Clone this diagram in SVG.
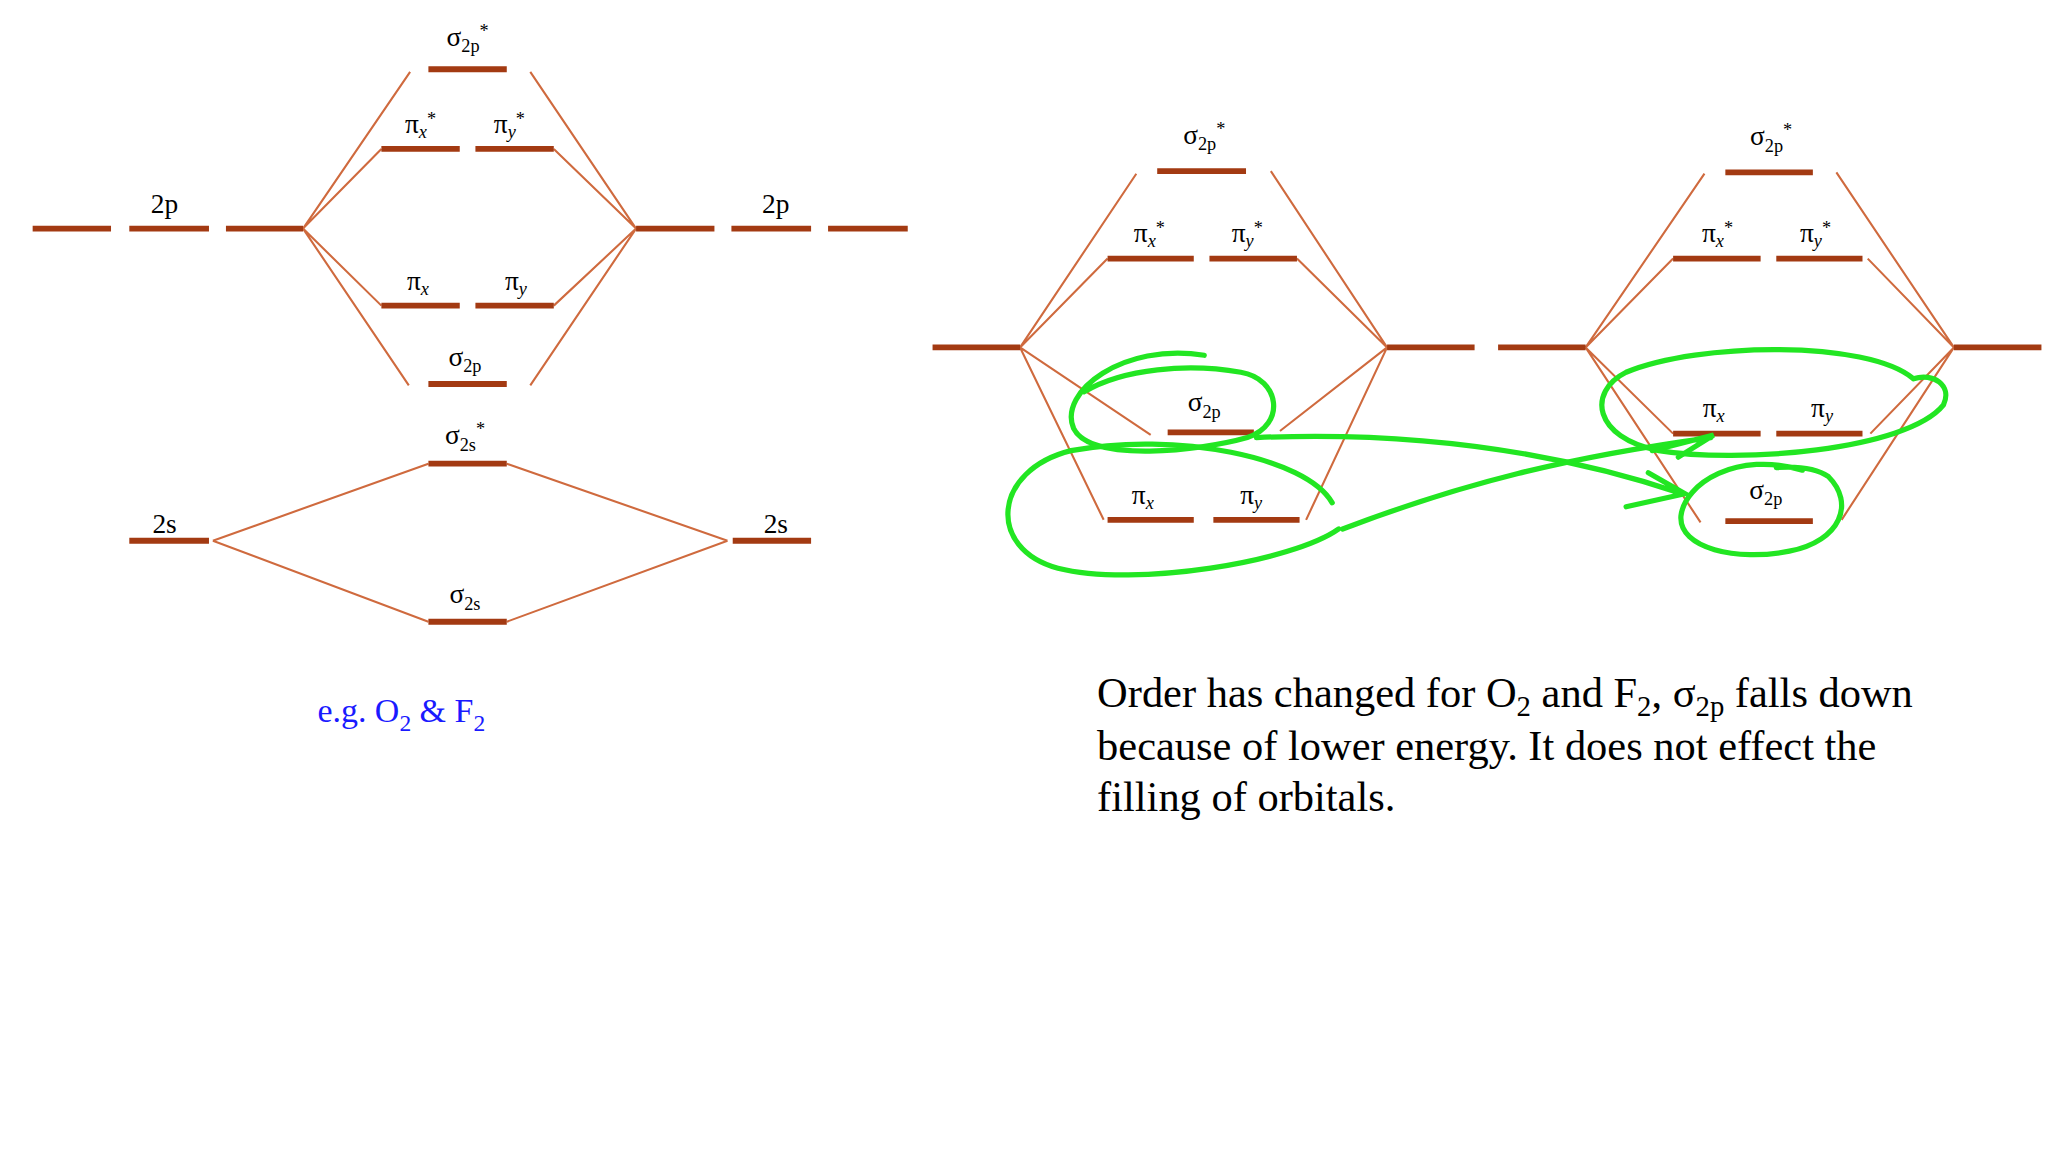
<svg xmlns="http://www.w3.org/2000/svg" width="2048" height="1152" viewBox="0 0 2048 1152">
<style>
.lv{stroke:#a33a12;stroke-width:4.5;fill:none}
.cn{stroke:#cf6a3e;stroke-width:1.6;fill:none}
.lb{font-family:"Liberation Serif",serif;font-size:21px;fill:#000;text-anchor:middle}
.sb{font-size:14px}
.gr{stroke:#22e622;stroke-width:4;fill:none;stroke-linecap:round}
.tx{font-family:"Liberation Serif",serif;font-size:32.5px;fill:#000}
</style>
<rect width="2048" height="1152" fill="#fff"/>
<g transform="scale(1.3061)">
<g id="connectors">
<path class="cn" d="M232,175L314,55M232,175L292,114M232,175L292,234M232,175L313,295M487,175L406,55M487,175L424,114M487,175L424,234M487,175L406,295M163,414L328,355M163,414L328,476M557,414L388,355M557,414L388,476"/>
<path class="cn" d="M781,266L870,133M781,266L848,198M781,266L881,333M781,266L845,398M1062,266L973,131M1062,266L993,198M1062,266L980,330M1062,266L1000,398"/>
<path class="cn" d="M1214,266L1305,133M1214,266L1281,198M1214,266L1281,332M1214,266L1302,400M1496,266L1406,132M1496,266L1430,198M1496,266L1432,332M1496,266L1410,398"/>
</g>
<g id="left">
<path class="lv" d="M25,175h60M99,175h61M173,175h59M487,175h60M560,175h61M634,175h61M328,53h60M292,114h60M364,114h60M292,234h60M364,234h60M328,294h60M328,355h60M99,414h61M561,414h60M328,476h60"/>
<text class="lb" x="358" y="35">σ<tspan class="sb" dy="5">2p</tspan><tspan class="sb" dy="-12">*</tspan></text>
<text class="lb" x="322" y="102">π<tspan class="sb" dy="4" font-style="italic">x</tspan><tspan class="sb" dy="-10">*</tspan></text>
<text class="lb" x="390" y="102">π<tspan class="sb" dy="4" font-style="italic">y</tspan><tspan class="sb" dy="-10">*</tspan></text>
<text class="lb" x="320" y="222">π<tspan class="sb" dy="4" font-style="italic">x</tspan></text>
<text class="lb" x="395" y="222">π<tspan class="sb" dy="4" font-style="italic">y</tspan></text>
<text class="lb" x="356" y="280">σ<tspan class="sb" dy="5">2p</tspan></text>
<text class="lb" x="356" y="340">σ<tspan class="sb" dy="5">2s</tspan><tspan class="sb" dy="-12">*</tspan></text>
<text class="lb" x="356" y="462">σ<tspan class="sb" dy="5">2s</tspan></text>
<text class="lb" x="126" y="163">2p</text>
<text class="lb" x="594" y="163">2p</text>
<text class="lb" x="126" y="408">2s</text>
<text class="lb" x="594" y="408">2s</text>
<text x="243" y="553" font-family="Liberation Serif,serif" font-size="26" fill="#1a1aff">e.g. O<tspan font-size="18" dy="7">2</tspan><tspan dy="-7"> &amp; F</tspan><tspan font-size="18" dy="7">2</tspan></text>
</g>
<g id="middle">
<path class="lv" d="M886,131h68M848,198h66M926,198h67M714,266h67M1062,266h67M894,331h66M848,398h66M929,398h66"/>
<text class="lb" x="922" y="110">σ<tspan class="sb" dy="5">2p</tspan><tspan class="sb" dy="-12">*</tspan></text>
<text class="lb" x="880" y="185">π<tspan class="sb" dy="4" font-style="italic">x</tspan><tspan class="sb" dy="-10">*</tspan></text>
<text class="lb" x="955" y="185">π<tspan class="sb" dy="4" font-style="italic">y</tspan><tspan class="sb" dy="-10">*</tspan></text>
<text class="lb" x="922" y="315">σ<tspan class="sb" dy="5">2p</tspan></text>
<text class="lb" x="875" y="386">π<tspan class="sb" dy="4" font-style="italic">x</tspan></text>
<text class="lb" x="958" y="386">π<tspan class="sb" dy="4" font-style="italic">y</tspan></text>
</g>
<g id="right">
<path class="lv" d="M1321,132h67M1281,198h67M1360,198h66M1147,266h67M1496,266h67M1281,332h67M1360,332h66M1321,399h67"/>
<text class="lb" x="1356" y="111">σ<tspan class="sb" dy="5">2p</tspan><tspan class="sb" dy="-12">*</tspan></text>
<text class="lb" x="1315" y="185">π<tspan class="sb" dy="4" font-style="italic">x</tspan><tspan class="sb" dy="-10">*</tspan></text>
<text class="lb" x="1390" y="185">π<tspan class="sb" dy="4" font-style="italic">y</tspan><tspan class="sb" dy="-10">*</tspan></text>
<text class="lb" x="1312" y="319">π<tspan class="sb" dy="4" font-style="italic">x</tspan></text>
<text class="lb" x="1395" y="319">π<tspan class="sb" dy="4" font-style="italic">y</tspan></text>
<text class="lb" x="1352" y="382">σ<tspan class="sb" dy="5">2p</tspan></text>
</g>
<g id="annotations">
<path class="gr" d="M922,272C860,262 810,300 822,328C835,355 920,345 955,335C985,325 980,290 950,285C910,278 860,282 830,300"/>
<path class="gr" d="M1020,385C1000,350 900,330 820,345C760,360 755,420 810,435C870,450 990,430 1025,405"/>
<path class="gr" d="M962,335C1080,330 1190,345 1288,378M1245,388L1290,378L1262,362"/>
<path class="gr" d="M1028,405C1120,370 1200,350 1310,335M1265,345L1312,333L1285,350"/>
<path class="gr" d="M1465,290C1430,260 1300,262 1245,285C1215,300 1220,335 1270,345C1330,355 1460,345 1488,310C1495,295 1480,285 1465,290"/>
<path class="gr" d="M1380,360C1330,345 1290,370 1287,395C1285,420 1330,430 1370,422C1410,414 1420,385 1400,365C1390,358 1375,357 1360,358"/>
</g>
<g id="caption">
<text class="tx" x="840" y="541">Order has changed for O<tspan font-size="22" dy="7">2</tspan><tspan dy="-7"> and F</tspan><tspan font-size="22" dy="7">2</tspan><tspan dy="-7">, σ</tspan><tspan font-size="22" dy="7">2p</tspan><tspan dy="-7"> falls down</tspan></text>
<text class="tx" x="840" y="582">because of lower energy. It does not effect the</text>
<text class="tx" x="840" y="621">filling of orbitals.</text>
</g>
</g>
</svg>
